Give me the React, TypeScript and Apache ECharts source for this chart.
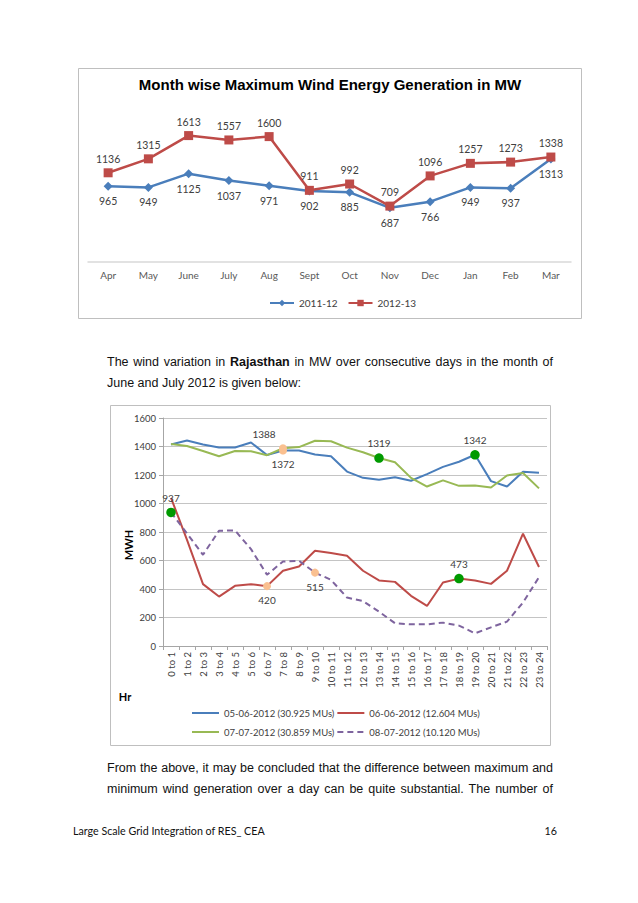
import React, { useEffect, useRef } from "react";
import * as echarts from "echarts";

// ---- Chart 1 data ----
const months = ["Apr", "May", "June", "July", "Aug", "Sept", "Oct", "Nov", "Dec", "Jan", "Feb", "Mar"];
const max2011 = [965, 949, 1125, 1037, 971, 902, 885, 687, 766, 949, 937, 1313];
const max2012 = [1136, 1315, 1613, 1557, 1600, 911, 992, 709, 1096, 1257, 1273, 1338];

// ---- Chart 2 data ----
const hours = [
  "0 to 1", "1 to 2", "2 to 3", "3 to 4", "4 to 5", "5 to 6", "6 to 7", "7 to 8",
  "8 to 9", "9 to 10", "10 to 11", "11 to 12", "12 to 13", "13 to 14", "14 to 15", "15 to 16",
  "16 to 17", "17 to 18", "18 to 19", "19 to 20", "20 to 21", "21 to 22", "22 to 23", "23 to 24",
];
const d050612 = [1414, 1442, 1414, 1393, 1393, 1428, 1340, 1372, 1372, 1344, 1332, 1224, 1180, 1166, 1184, 1160, 1206, 1257, 1293, 1342, 1157, 1119, 1223, 1216];
const d060612 = [1040, 745, 434, 347, 422, 434, 420, 528, 558, 669, 652, 633, 528, 460, 450, 352, 281, 446, 473, 460, 436, 528, 788, 554];
const d070712 = [1418, 1403, 1368, 1332, 1368, 1367, 1339, 1388, 1396, 1440, 1437, 1392, 1360, 1319, 1290, 1180, 1119, 1162, 1124, 1127, 1112, 1197, 1214, 1106];
const d080712 = [937, 790, 640, 809, 811, 680, 500, 593, 598, 515, 464, 340, 315, 241, 160, 152, 152, 164, 143, 89, 131, 171, 305, 483];

const names2 = [
  "05-06-2012 (30.925 MUs)",
  "06-06-2012 (12.604 MUs)",
  "07-07-2012 (30.859 MUs)",
  "08-07-2012 (10.120 MUs)",
];

// highlighted points: index -> [marker kind, label position]
const marks050612: Record<number, [string, string]> = { 7: ["orange", "bottom"], 19: ["green", "top"] };
const marks060612: Record<number, [string, string]> = { 6: ["orange", "bottom"], 18: ["green", "top"] };
const marks070712: Record<number, [string, string]> = { 7: ["orange", "top"], 13: ["green", "top"] };
const marks080712: Record<number, [string, string]> = { 0: ["green", "top"], 9: ["orange", "bottom"] };

const MARK_COLORS: Record<string, string> = { green: "#009a00", orange: "#fac090" };

function buildData(values: number[], marks: Record<number, [string, string]>, offsets: Record<number, number[]> = {}) {
  return values.map((v, i) => {
    const m = marks[i];
    if (!m) return v;
    return {
      value: v,
      symbol: "circle",
      symbolSize: m[0] === "green" ? 9.5 : 8,
      itemStyle: { color: MARK_COLORS[m[0]] },
      label: {
        show: true,
        position: m[1],
        distance: 5,
        fontSize: 10,
        color: "#404040",
        fontFamily: "Lato",
        offset: offsets[i] || [0, 0],
      },
    };
  });
}

export default function App() {
  const ref = useRef<HTMLDivElement>(null);

  useEffect(() => {
    if (!ref.current) return;
    const chart = echarts.init(ref.current, undefined, { renderer: "svg" });
    const lbl = { fontFamily: "Lato", color: "#404040" };
    const legend2 = {
      itemWidth: 27, itemHeight: 8, itemGap: 2, selectedMode: false,
      itemStyle: { opacity: 0 },
      textStyle: { ...lbl, fontSize: 9.5 },
    };
    chart.setOption({
      animation: false,
      textStyle: { fontFamily: "Lato" },
      graphic: [
        { type: "rect", shape: { x: 78.5, y: 68.5, width: 503, height: 250 }, style: { fill: "none", stroke: "#bfbfbf", lineWidth: 1 } },
        { type: "rect", shape: { x: 110.5, y: 405.5, width: 440, height: 340 }, style: { fill: "none", stroke: "#bfbfbf", lineWidth: 1 } },
        {
          type: "text", x: 330, y: 84,
          style: { text: "Month wise Maximum Wind Energy Generation in MW", fontFamily: "Liberation Sans", fontWeight: "bold", fontSize: 15, fill: "#000", align: "center", verticalAlign: "middle" },
        },
        {
          type: "text", x: 128, y: 545, rotation: Math.PI / 2,
          style: { text: "MWH", fontFamily: "Lato", fontWeight: "bold", fontSize: 11, fill: "#000", align: "center", verticalAlign: "middle" },
        },
        {
          type: "text", x: 125, y: 696,
          style: { text: "Hr", fontFamily: "Lato", fontWeight: "bold", fontSize: 11, fill: "#000", align: "center", verticalAlign: "middle" },
        },
      ],
      grid: [
        { left: 88, top: 105.4, width: 483, height: 156 },
        { left: 163, top: 418, width: 384, height: 228 },
      ],
      xAxis: [
        {
          gridIndex: 0, type: "category", data: months,
          axisLine: { lineStyle: { color: "#d9d9d9", width: 1.5 } },
          axisTick: { show: false },
          axisLabel: { ...lbl, color: "#595959", fontSize: 10, margin: 9 },
        },
        {
          gridIndex: 1, type: "category", data: hours,
          axisLine: { lineStyle: { color: "#a6a6a6" } },
          axisTick: { show: true, interval: 0, length: 4, lineStyle: { color: "#a6a6a6" } },
          axisLabel: { ...lbl, interval: 0, rotate: 90, fontSize: 9.5, margin: 6 },
        },
      ],
      yAxis: [
        { gridIndex: 0, type: "value", min: 0, max: 2000, show: false },
        {
          gridIndex: 1, type: "value", min: 0, max: 1600, interval: 200,
          axisLine: { show: true, lineStyle: { color: "#a6a6a6" } },
          axisTick: { show: true, length: 4, lineStyle: { color: "#a6a6a6" } },
          splitLine: { lineStyle: { color: "#c4c4c4" } },
          axisLabel: { ...lbl, fontSize: 9.5, margin: 7, formatter: (v: number) => String(v) },
        },
      ],
      legend: [
        {
          data: ["2011-12", "2012-13"], left: 264, top: 293, itemWidth: 24, itemHeight: 8, itemGap: 10,
          selectedMode: false, textStyle: { ...lbl, fontSize: 10 },
        },
        { ...legend2, data: [names2[0], names2[1]], left: 186, top: 703 },
        { ...legend2, data: [names2[2], names2[3]], left: 186, top: 722 },
      ],
      series: [
        {
          name: "2011-12", type: "line", xAxisIndex: 0, yAxisIndex: 0, data: max2011,
          symbol: "diamond", symbolSize: 9,
          lineStyle: { width: 2.5, color: "#4a7ebb" }, itemStyle: { color: "#4a7ebb" },
          label: { show: true, position: "bottom", distance: 5, fontSize: 10.5, ...lbl },
        },
        {
          name: "2012-13", type: "line", xAxisIndex: 0, yAxisIndex: 0, data: max2012,
          symbol: "rect", symbolSize: 9,
          lineStyle: { width: 2.5, color: "#be4b48" }, itemStyle: { color: "#be4b48" },
          label: { show: true, position: "top", distance: 4, fontSize: 10.5, ...lbl },
        },
        {
          name: names2[0], type: "line", xAxisIndex: 1, yAxisIndex: 1, symbol: "none", showAllSymbol: true,
          data: buildData(d050612, marks050612),
          lineStyle: { width: 2, color: "#4a7ebb" }, itemStyle: { color: "#4a7ebb" },
        },
        {
          name: names2[1], type: "line", xAxisIndex: 1, yAxisIndex: 1, symbol: "none", showAllSymbol: true,
          data: buildData(d060612, marks060612),
          lineStyle: { width: 2, color: "#be4b48" }, itemStyle: { color: "#be4b48" },
        },
        {
          name: names2[2], type: "line", xAxisIndex: 1, yAxisIndex: 1, symbol: "none", showAllSymbol: true,
          data: buildData(d070712, marks070712, { 7: [-19, 0] }),
          lineStyle: { width: 2, color: "#98b954" }, itemStyle: { color: "#98b954" },
        },
        {
          name: names2[3], type: "line", xAxisIndex: 1, yAxisIndex: 1, symbol: "none", showAllSymbol: true,
          data: buildData(d080712, marks080712),
          lineStyle: { width: 2, color: "#7e649e", type: [6, 4] }, itemStyle: { color: "#7e649e" },
        },
      ],
    });
    return () => chart.dispose();
  }, []);

  const body: React.CSSProperties = {
    position: "absolute", left: 107, width: 446, fontFamily: "'Liberation Sans', Arial, sans-serif",
    fontSize: 12.5, lineHeight: "21px", color: "#111",
  };
  const just: React.CSSProperties = { textAlign: "justify", textAlignLast: "justify" };
  const foot: React.CSSProperties = { position: "absolute", top: 823, fontFamily: "Lato", fontSize: 10.7, color: "#111", lineHeight: "16px" };

  return (
    <div style={{ position: "absolute", left: 0, top: 0, width: 638, height: 903, background: "#fff", overflow: "hidden" }}>
      <div ref={ref} style={{ position: "absolute", left: 0, top: 0, width: 638, height: 903 }} />
      <div style={{ ...body, top: 352 }}>
        <div style={just}>
          The wind variation in <b>Rajasthan</b> in MW over consecutive days in the month of
        </div>
        <div>June and July 2012 is given below:</div>
      </div>
      <div style={{ ...body, top: 758 }}>
        <div style={just}>
          From the above, it may be concluded that the difference between maximum and
        </div>
        <div style={just}>
          minimum wind generation over a day can be quite substantial. The number of
        </div>
      </div>
      <div style={{ ...foot, left: 73 }}>Large Scale Grid Integration of RES_ CEA</div>
      <div style={{ ...foot, right: 638 - 557 }}>16</div>
    </div>
  );
}
